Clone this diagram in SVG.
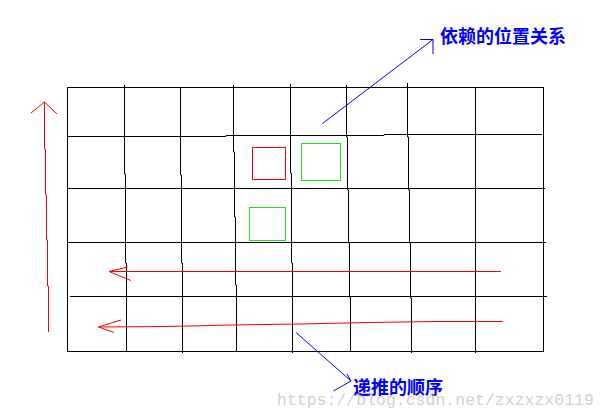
<svg xmlns="http://www.w3.org/2000/svg" width="607" height="418" viewBox="0 0 607 418">
<style>
.g{fill:none;stroke:#000;stroke-width:1}
.r{fill:none;stroke:#ff0000;stroke-width:1}
.gr{fill:none;stroke:#1de01d;stroke-width:1}
.b{fill:none;stroke:#0000ff;stroke-width:1}
.lbl{font-family:"Noto Sans CJK SC","Noto Sans",sans-serif;font-size:18px;font-weight:bold;fill:#0000ff}
.wm{font-family:"Liberation Mono","DejaVu Sans Mono",monospace;font-size:16.5px;fill:#c8c4bc;fill-opacity:0.8}
</style>
<rect width="607" height="418" fill="#fff"/>
<g id="grid">
<line class="g" x1="67" y1="87.5" x2="544" y2="87.5"/>
<line class="g" x1="67" y1="351.5" x2="544" y2="351.5"/>
<line class="g" x1="67.5" y1="87" x2="67.5" y2="352"/>
<line class="g" x1="543.5" y1="87" x2="543.5" y2="352"/>
<polyline class="g" points="68,136.5 226,136.5 226,135.5 384,135.5 384,134.5 542,134.5"/>
<line class="g" x1="67" y1="188.5" x2="545" y2="188.5"/>
<line class="g" x1="67" y1="242.5" x2="546" y2="242.5"/>
<line class="g" x1="70" y1="296.5" x2="547" y2="296.5"/>
<polyline class="g" points="124.5,85 124.5,174 125.5,174 125.5,263 126.5,263 126.5,352"/>
<polyline class="g" points="180.5,87 180.5,175 181.5,175 181.5,263 182.5,263 182.5,353"/>
<polyline class="g" points="233.5,85 233.5,152 234.5,152 234.5,217 235.5,217 235.5,285 236.5,285 236.5,352"/>
<polyline class="g" points="290.5,84 290.5,173 291.5,173 291.5,263 292.5,263 292.5,353"/>
<polyline class="g" points="346.5,85 346.5,137 347.5,137 347.5,190 348.5,190 348.5,243 349.5,243 349.5,297 350.5,297 350.5,352"/>
<polyline class="g" points="407.5,83 407.5,137 408.5,137 408.5,190 409.5,190 409.5,243 410.5,243 410.5,298 411.5,298 411.5,353"/>
<line class="g" x1="475.5" y1="87" x2="475.5" y2="353"/>
</g>
<g id="cells">
<rect id="cell-current" class="r" x="252.5" y="147.5" width="33" height="32"/>
<rect id="cell-dep-right" class="gr" x="301.5" y="143.5" width="39" height="37"/>
<rect id="cell-dep-below" class="gr" x="249.5" y="207.5" width="36" height="33"/>
</g>
<g id="connectors">
<polyline class="r" points="44.5,102 44.5,149 45.5,149 45.5,195 46.5,195 46.5,240 47.5,240 47.5,286 48.5,286 48.5,332"/>
<polyline class="r" points="31,113 44.5,102 57,114"/>
<line class="r" x1="109" y1="271.5" x2="501" y2="271.5"/>
<polyline class="r" points="127.5,267 109,271.5 131,280.5"/>
<polyline class="r" points="98.5,327 166,326.5 232.5,325 300,324 368,322.5 435,321.5 503,321.5"/>
<polyline class="r" points="121,320 98.5,327 114,332.5"/>
<line class="b" x1="322.5" y1="123.5" x2="433" y2="39.5"/>
<polyline class="b" points="420,39.5 433,39.5 433,54"/>
<line class="b" x1="296" y1="332.5" x2="351" y2="381"/>
<polyline class="b" points="347,374 351,381 333.5,391"/>
</g>
<g id="labels">
<text class="lbl" x="353" y="394">递推的顺序</text>
<text class="wm" x="277" y="405">https://blog.csdn.net/zxzxzx0119</text>
<text class="lbl" x="440" y="43">依赖的位置关系</text>
</g>
</svg>
